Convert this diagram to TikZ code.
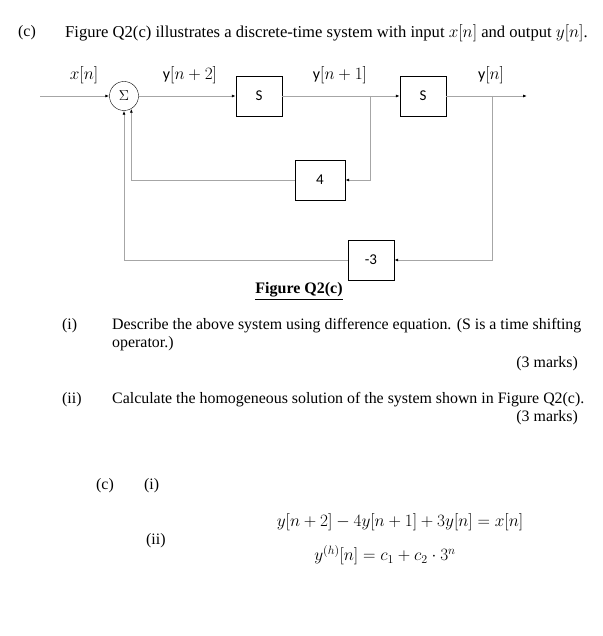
\documentclass[tikz,border=0pt]{standalone}
\usepackage{amsmath}
\usepackage{fontspec}
\setmainfont{Liberation Serif}
\newfontfamily\blk{Carlito}
\usetikzlibrary{arrows.meta}
\begin{document}
\begin{tikzpicture}[x=1pt,y=-1pt,
  txt/.style={inner sep=0pt,anchor=west,font=\fontsize{15.9}{19}\selectfont},
  blkbox/.style={draw,minimum width=46pt,minimum height=40pt,font=\blk\fontsize{15}{17}\selectfont,inner sep=0pt},
  sig/.style={draw,circle,minimum size=29pt,inner sep=0pt,font=\fontsize{14}{16}\selectfont},
  wire/.style={draw=black!35,line width=0.8pt},
  arr/.style={wire,-{Latex[length=4pt,width=3pt,black]}},
  lab/.style={inner sep=0pt,font=\blk\fontsize{16}{19}\selectfont}]
\useasboundingbox (0,0) rectangle (602,636);
\node[txt] (c) at (18,33) {(c)};
\node[txt,font=\fontsize{16.6}{19}\selectfont] (t1) at (65,33) {Figure Q2(c) illustrates a discrete-time system with input $x[n]$ and output $y[n]$.};
% diagram
\coordinate (in) at (40,96);
\node[sig] (s) at (124,96) {$\Sigma$};
\node[blkbox] (S1) at (259,96) {S};
\node[blkbox] (S2) at (423,96) {S};
\node[blkbox,minimum width=50pt] (g4) at (320,180) {4};
\node[blkbox] (g3) at (371,260) {-3};
\coordinate (j1) at (370,96);
\coordinate (j2) at (492,96);
\coordinate (out) at (527,96);
\draw[arr] (in) -- (s);
\draw[arr] (s) -- (S1);
\draw[wire] (S1) -- (j1);
\draw[arr] (j1) -- (S2);
\draw[wire] (S2) -- (j2);
\draw[arr] (j2) -- (out);
\draw[arr] (j1) |- (g4.east);
\draw[arr] (g4.west) -| (s.-60);
\draw[arr] (j2) |- (g3.east);
\draw[arr] (g3.west) -| (s.south);
\node[lab] (lx) at (84,75) {$x[n]$};
\node[lab] (l2) at (190,75) {y$[n+2]$};
\node[lab] (l1) at (340,75) {y$[n+1]$};
\node[lab] (l0) at (491,75) {y$[n]$};
\node[inner sep=0pt,font=\bfseries\fontsize{16}{19}\selectfont] (fig) at (299,291) {\underline{Figure Q2(c)}};
% questions
\node[txt] (i) at (62,326) {(i)};
\node[txt] (q1) at (112,326) {Describe the above system using difference equation. (S is a time shifting};
\node[txt] (q1b) at (112,344) {operator.)};
\node[txt,anchor=east] (m1) at (578,364) {(3 marks)};
\node[txt] (ii) at (62,400) {(ii)};
\node[txt] (q2) at (112,400) {Calculate the homogeneous solution of the system shown in Figure Q2(c).};
\node[txt,anchor=east] (m2) at (578,418) {(3 marks)};
\node[txt] (ac) at (96,486) {(c)};
\node[txt] (ai) at (144,486) {(i)};
\node[txt] (aii) at (146,541) {(ii)};
\node[inner sep=0pt,font=\fontsize{18.5}{21}\selectfont] (e1) at (400,522) {$y[n+2]-4y[n+1]+3y[n]=x[n]$};
\node[inner sep=0pt,font=\fontsize{18.5}{21}\selectfont] (e2) at (385,555) {$y^{(h)}[n]=c_1+c_2\cdot 3^n$};
\end{tikzpicture}
\end{document}
